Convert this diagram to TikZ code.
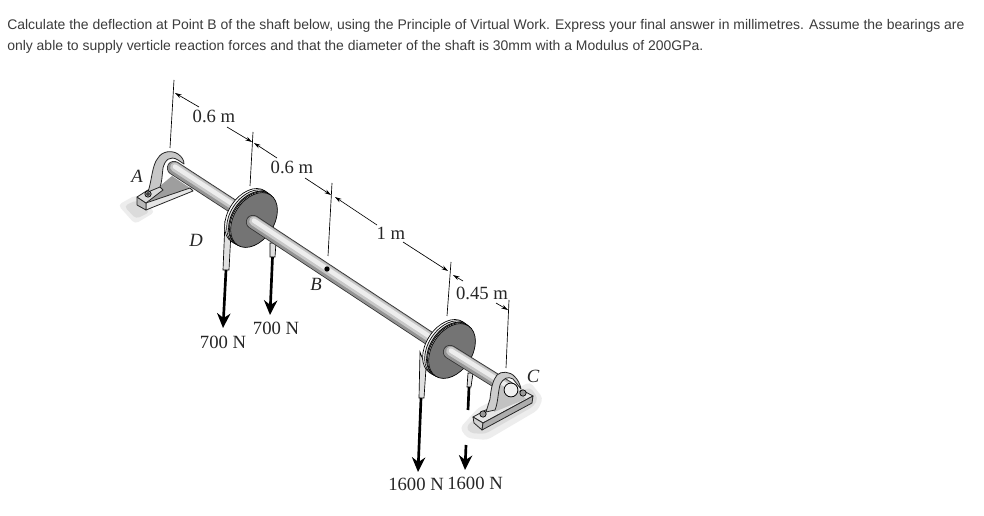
\documentclass[tikz,border=0pt]{standalone}
\usepackage{fontspec}
\setmainfont{Liberation Serif}
\newfontfamily\headfont{Liberation Sans}
\usetikzlibrary{arrows.meta}
\definecolor{headtext}{HTML}{3C3C3C}
\definecolor{diskface}{HTML}{747474}
\newcommand{\shaftrun}[2]{%
  \draw[line cap=round,line width=10.6pt,black!80] (#1) -- (#2);
  \draw[line cap=round,line width=9.4pt,black!42] (#1) -- (#2);
  \draw[line cap=round,line width=6.8pt,black!22] ([xshift=0.5pt,yshift=0.7pt]#1) -- ([xshift=0.5pt,yshift=0.7pt]#2);
  \draw[line cap=round,line width=3.4pt,black!7] ([xshift=0.7pt,yshift=1pt]#1) -- ([xshift=0.7pt,yshift=1pt]#2);
}
\newcommand{\wheel}[1]{%
  \begin{scope}[shift={(#1)},rotate=-33]
    \draw[rimline] (-5.2pt,0) ellipse[x radius=15pt,y radius=22.8pt];
    \draw[rimline,fill=black!12] (-3.4pt,0) ellipse[x radius=15pt,y radius=22.8pt];
    \draw[rimline,fill=black!55] (-1.8pt,0) ellipse[x radius=15pt,y radius=22.6pt];
    \draw[rimline,fill=black!8] (-0.9pt,0) ellipse[x radius=15pt,y radius=22.6pt];
    \draw[black,line width=0.5pt,fill=diskface] (0,0) ellipse[x radius=15pt,y radius=22.5pt];
  \end{scope}
}
\tikzset{
  x=0.75pt,y=-0.75pt,
  headline/.style={font=\headfont\fontsize{10.47pt}{12pt}\selectfont,text=headtext,anchor=west,inner sep=0pt},
  lab/.style={font=\fontsize{14pt}{16pt}\selectfont,text=black!85,inner sep=0pt},
  pointlab/.style={lab,font=\itshape\fontsize{14pt}{16pt}\selectfont},
  dimline/.style={draw=black,line width=0.5pt},
  dimarrow/.style={dimline,-{Stealth[length=5pt,width=3pt]}},
  extline/.style={draw=black,line width=0.5pt},
  load/.style={draw=black,line width=2pt,-{Stealth[length=11pt,width=10pt]}},
  wire/.style={draw=black,line width=2pt},
  beltfill/.style={fill=black!12,draw=black,line width=0.5pt},
  rimline/.style={draw=black,line width=0.5pt,fill=white},
  casting/.style={draw=black!85,line width=0.6pt,fill=black!22,line join=round},
  groundA/.style={fill=black!7,rounded corners=3pt},
  groundB/.style={fill=black!14,rounded corners=3pt},
  boltstyle/.style={draw=black,line width=0.5pt,fill=black!40},
}
\begin{document}
\begin{tikzpicture}
\useasboundingbox[fill=white] (0,0) rectangle (984,516);

% heading
\node[headline] (headA) at (7,26) {Calculate the deflection at Point B of the shaft below, using the Principle of Virtual Work. Express your final answer in millimetres. Assume the bearings are};
\node[headline] (headB) at (7,47) {only able to supply verticle reaction forces and that the diameter of the shaft is 30mm with a Modulus of 200GPa.};

% shaft stations
\coordinate (shA) at (174,168);
\coordinate (dD) at (254,220);
\coordinate (shD) at (253,222);
\coordinate (dE) at (452,351);
\coordinate (shE) at (450,352);
\coordinate (shC) at (511,390);

% ground shading
\fill[groundA] (118,205) -- (136,195) -- (155,212) -- (135,224) -- cycle;
\fill[groundB] (124,206) -- (137,200) -- (150,212) -- (136,219) -- cycle;
\fill[groundA] (460,428) -- (478,408) -- (530,382) -- (543,398) -- (538,410) -- (487,440) -- (467,438) -- cycle;
\fill[groundB] (466,427) -- (480,413) -- (530,387) -- (538,398) -- (534,406) -- (485,434) -- (470,433) -- cycle;

% bearing A
\draw[casting,fill=black!38,draw=none] (160,186) -- (172,176) -- (193,190) -- (146,206) -- cycle;
\draw[casting,fill=black!10] (146,203) -- (190,188) -- (193,191) -- (146,210) -- cycle;
\draw[casting,fill=black!28] (137,197) -- (146,203) -- (146,210) -- (137,205) -- cycle;
\draw[casting,fill=black!14] (137,197) -- (148,190) -- (159,186) -- (163,190) -- (146,203) -- cycle;
\draw[casting,fill=black!22] (148,192) .. controls (152,180) and (152,165) .. (158,158)
  .. controls (162,151) and (172,150) .. (178,154) .. controls (182,157) and (184,160) .. (184,164)
  -- (178,160) .. controls (170,155) and (165,160) .. (163,168)
  .. controls (162,176) and (162,182) .. (160,187) -- cycle;
\draw[boltstyle] (148,194) circle[radius=2.4pt];
\draw[boltstyle,fill=white] (148,194) circle[radius=1.1pt];

% rear belts
\draw[beltfill] (270,243) -- (276,243) -- (275,257) -- (270,257) -- cycle;
\draw[beltfill] (468,373) -- (473,373) -- (471,387) -- (467,387) -- cycle;

% shaft A to D
\shaftrun{shA}{dD}

% front belts
\draw[beltfill] (225,222) -- (231,232) -- (229,270) -- (223,270) -- cycle;
\draw[beltfill] (420,352) -- (426,368) -- (424,398) -- (419,398) -- cycle;

% wheel D and shaft D to E
\wheel{dD}
\shaftrun{shD}{shE}

% wheel E and shaft E to C
\wheel{dE}
\shaftrun{shE}{shC}

% bearing C
\draw[casting,fill=black!10] (473,417) -- (522,390) -- (533,396) -- (483,423) -- cycle;
\draw[casting,fill=black!18] (473,417) -- (483,423) -- (482,430) -- (474,423) -- cycle;
\draw[casting,fill=black!32] (483,423) -- (533,396) -- (532,403) -- (482,430) -- cycle;
\draw[casting,fill=black!24,draw=none] (494,412) -- (500,386) -- (518,390) -- (526,399) -- cycle;
\draw[casting,fill=black!20] (486,412) -- (490,399) .. controls (491,388) and (493,380) .. (497,375)
  .. controls (501,371) and (510,371) .. (515,377) .. controls (518,380) and (520,384) .. (521,389)
  -- (513,379) .. controls (508,376) and (503,378) .. (500,385)
  .. controls (498,392) and (498,403) .. (495,410) -- cycle;
\draw[black,line width=0.6pt,fill=black!6] (511,390) circle[radius=5.2pt];
\draw[boltstyle] (483,414) circle[radius=2.4pt];
\draw[boltstyle] (523,393) circle[radius=2.4pt];

% loads
\coordinate (loadDa) at (226,270);
\coordinate (tipDa) at (223,328);
\coordinate (loadDb) at (272.5,257);
\coordinate (tipDb) at (270,315);
\coordinate (loadEa) at (421,398);
\coordinate (tipEa) at (418,472);
\coordinate (loadEb) at (469,387);
\coordinate (endEb) at (468,410);
\coordinate (loadEc) at (466,445);
\coordinate (tipEc) at (465,470);
\draw[load] (loadDa) -- (tipDa);
\draw[load] (loadDb) -- (tipDb);
\draw[load] (loadEa) -- (tipEa);
\draw[wire] (loadEb) -- (endEb);
\draw[load] (loadEc) -- (tipEc);

% point B
\fill[black] (327,269) circle[radius=2pt];

% extension lines
\coordinate (exA1) at (174,80);   \coordinate (exA2) at (170,148);
\coordinate (exB1) at (253,132);  \coordinate (exB2) at (250,186);
\coordinate (exC1) at (332,183);  \coordinate (exC2) at (328,256);
\coordinate (exD1) at (451,262);  \coordinate (exD2) at (447,316);
\coordinate (exE1) at (509,300);  \coordinate (exE2) at (506,368);
\draw[extline] (exA1) -- (exA2);
\draw[extline] (exB1) -- (exB2);
\draw[extline] (exC1) -- (exC2);
\draw[extline] (exD1) -- (exD2);
\draw[extline] (exE1) -- (exE2);

% dimension labels
\node[lab] (dimA) at (214,116) {0.6 m};
\node[lab] (dimB) at (292,167) {0.6 m};
\node[lab] (dimC) at (391,233) {1 m};
\node[lab] (dimD) at (482,293) {0.45 m};

% dimension arrows
\coordinate (a1s) at (199,107);  \coordinate (a1t) at (175,93);
\coordinate (a2s) at (227,127);  \coordinate (a2t) at (252,142);
\coordinate (a3s) at (277,158);  \coordinate (a3t) at (254,143);
\coordinate (a4s) at (305,178);  \coordinate (a4t) at (331,195);
\coordinate (a5s) at (377,225);  \coordinate (a5t) at (335,197);
\coordinate (a6s) at (403,242);  \coordinate (a6t) at (448,271);
\coordinate (a7s) at (463,281);  \coordinate (a7t) at (453,275);
\coordinate (a8s) at (496,303);  \coordinate (a8t) at (508,310);
\draw[dimarrow] (a1s) -- (a1t);
\draw[dimarrow] (a2s) -- (a2t);
\draw[dimarrow] (a3s) -- (a3t);
\draw[dimarrow] (a4s) -- (a4t);
\draw[dimarrow] (a5s) -- (a5t);
\draw[dimarrow] (a6s) -- (a6t);
\draw[dimarrow] (a7s) -- (a7t);
\draw[dimarrow] (a8s) -- (a8t);

% point labels
\node[pointlab] (ptA) at (137,176) {A};
\node[pointlab] (ptD) at (196,240) {D};
\node[pointlab] (ptB) at (316,284) {B};
\node[pointlab] (ptC) at (533,376) {C};

% load labels
\node[lab] (loadA) at (223,342) {700 N};
\node[lab] (loadB) at (276,328) {700 N};
\node[lab] (loadC) at (416,484) {1600 N};
\node[lab] (loadE) at (475,483) {1600 N};
\end{tikzpicture}
\end{document}
